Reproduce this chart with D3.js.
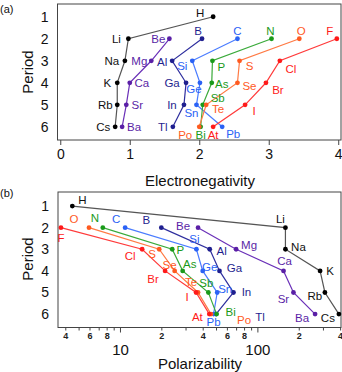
<!DOCTYPE html>
<html>
<head>
<meta charset="utf-8">
<script src="https://cdn.jsdelivr.net/npm/d3@7"></script>
<style>
body { margin: 0; background: #fff; }
svg { font-family: "Liberation Sans", Arial, sans-serif; }
</style>
</head>
<body>
<div class="chart"></div>
<script>
// data
var elements = ["H","Li","Na","K","Rb","Cs", "Be","Mg","Ca","Sr","Ba", "B","Al","Ga","In","Tl",
                "C","Si","Ge","Sn","Pb", "N","P","As","Sb","Bi", "O","S","Se","Te","Po", "F","Cl","Br","I","At"];
var group = [1,1,1,1,1,1, 2,2,2,2,2, 13,13,13,13,13, 14,14,14,14,14, 15,15,15,15,15, 16,16,16,16,16, 17,17,17,17,17];
var period = [1,2,3,4,5,6, 2,3,4,5,6, 2,3,4,5,6, 2,3,4,5,6, 2,3,4,5,6, 2,3,4,5,6, 2,3,4,5,6];
var electronegativity = [2.20,0.98,0.93,0.82,0.82,0.79, 1.57,1.31,1.00,0.95,0.89, 2.04,1.61,1.81,1.78,1.62,
                         2.55,1.90,2.01,1.96,2.33, 3.04,2.19,2.18,2.05,2.02, 3.44,2.58,2.55,2.10,2.00,
                         3.98,3.16,2.96,2.66,2.20];
var polarizability = [4.5,160,160,286,310,392, 37,70,155,183,263, 20,45,53,67,50,
                      10.9,36,40,51,48, 7.5,24,28.6,44,50.5, 5.95,19.3,25,37,46,
                      3.72,14.5,21.3,35.8,44.7];
var periodTicks = [1,2,3,4,5,6];
var enTicks = [0,1,2,3,4];
var polMinorTicks = [4,5,6,7,8,9,20,30,40,50,60,70,80,90,200,300,400];
var polMinorLabels = [4,6,8,20,40,60,80,200,400];
var polMajorTicks = [10,100];

var width = 342, height = 372;

var colors = {1:"#000000", 2:"#5a1fa6", 13:"#1f1f8f", 14:"#2a62f5", 15:"#1a9a1a", 16:"#ff5a1f", 17:"#ff1a1a"};
var lineColors = {1:"#555555", 2:"#6a30b8", 13:"#2e2e9e", 14:"#4a7cff", 15:"#3aaa3a", 16:"#ff7a44", 17:"#ff3a3a"};

// label offsets (dx, dy) from each dot
var offA = {H:[-13,-4],Li:[-12,0],Na:[-13,0],K:[-10,0],Rb:[-12,0],Cs:[-12,0],
  Be:[-11,0],Mg:[-12,0],Ca:[12,0],Sr:[11,0],Ba:[12,0],
  B:[-4,-8],Al:[-10,1],Ga:[-14,0],In:[-12,0],Tl:[-10,0],
  C:[0,-8],Si:[-10,5],Ge:[-6,6],Sn:[-5,8],Pb:[11,7],
  N:[-1,-8],P:[9,6],As:[10,1],Sb:[15,-7],Bi:[0,8],
  O:[2,-8],S:[10,5],Se:[12,3],Te:[12,4],Po:[-14,8],
  F:[-7,-8],Cl:[11,8],Br:[12,7],I:[9,6],At:[0,8]};
var offB = {H:[10,-6],Li:[-5,-9],Na:[13,-2],K:[10,0],Rb:[-10,4],Cs:[-11,4],
  Be:[-15,-2],Mg:[13,-4],Ca:[1,-10],Sr:[-10,7],Ba:[-13,4],
  B:[-15,-8],Al:[12,2],Ga:[15,-3],In:[13,0],Tl:[44,3],
  C:[-9,-9],Si:[-2,-10],Ge:[7,-4],Sn:[8,-3],Pb:[0,8],
  N:[-8,-10],P:[8,1],As:[7,-7],Sb:[-2,-9],Bi:[14,-2],
  O:[-15,-9],S:[-7,5],Se:[-5,-6],Te:[-7,-10],Po:[33,6],
  F:[0,10],Cl:[-12,7],Br:[-12,8],I:[-9,5],At:[-12,3]};

var rows = elements.map(function(e, i) {
  return {el: e, g: group[i], p: period[i], en: electronegativity[i], pol: polarizability[i]};
});
var groupIds = [1,2,13,14,15,16,17];

var svg = d3.select('.chart').append('svg')
  .attr('width', width).attr('height', height);

function panel(opts) {
  var x = opts.x, y = opts.y;
  var g = svg.append('g');
  var x0 = x.range()[0], x1 = x.range()[1], y0 = y.range()[0], y1 = y.range()[1];

  // box
  g.append('rect')
   .attr('x', x0).attr('y', y0).attr('width', x1 - x0).attr('height', y1 - y0)
   .attr('fill', 'none').attr('stroke', '#444').attr('stroke-width', 1);

  // y axis
  var yAxis = d3.axisLeft(y).tickValues(periodTicks).tickSize(0).tickPadding(9).tickFormat(d3.format('d'));
  var ya = g.append('g').attr('transform', 'translate(' + x0 + ',0)').call(yAxis);
  ya.select('.domain').remove();
  ya.selectAll('text').attr('font-size', 14).attr('fill', '#111');

  g.append('text')
   .attr('transform', 'translate(27,' + opts.yTitle + ') rotate(-90)')
   .attr('text-anchor', 'middle').attr('dominant-baseline', 'central')
   .attr('font-size', 15).attr('fill', '#111').text('Period');

  g.append('text').attr('x', 0).attr('y', opts.tagY)
   .attr('font-size', 11).attr('fill', '#111').text(opts.tag);

  // lines per group
  var line = d3.line().x(function(d) { return x(opts.val(d)); }).y(function(d) { return y(d.p); });
  groupIds.forEach(function(gid) {
    var pts = rows.filter(function(d) { return d.g === gid; });
    g.append('path').datum(pts)
     .attr('d', line).attr('fill', 'none')
     .attr('stroke', lineColors[gid]).attr('stroke-width', 1.2);
  });

  g.selectAll('circle.dot').data(rows).enter().append('circle')
   .attr('cx', function(d) { return x(opts.val(d)); })
   .attr('cy', function(d) { return y(d.p); })
   .attr('r', 2.4)
   .attr('fill', function(d) { return colors[d.g]; });

  g.selectAll('text.lab').data(rows).enter().append('text')
   .attr('x', function(d) { return x(opts.val(d)) + opts.off[d.el][0]; })
   .attr('y', function(d) { return y(d.p) + opts.off[d.el][1]; })
   .attr('text-anchor', 'middle').attr('dominant-baseline', 'central')
   .attr('font-size', 11.5)
   .attr('fill', function(d) { return d.g === 1 ? '#111' : colors[d.g]; })
   .text(function(d) { return d.el; });

  return g;
}

// (a) electronegativity
var xA = d3.scaleLinear().domain([-0.04, 4.04]).range([57.5, 341]);
var yA = d3.scaleLinear().domain([0.42, 6.6]).range([4, 140]);
var gA = panel({x: xA, y: yA, val: function(d) { return d.en; }, off: offA, yTitle: 72, tag: '(a)', tagY: 13});

var xAxisA = d3.axisBottom(xA).tickValues(enTicks).tickSize(5).tickPadding(4).tickFormat(d3.format('d'));
var xa = gA.append('g').attr('transform', 'translate(0,140)').call(xAxisA);
xa.select('.domain').remove();
xa.selectAll('line').attr('stroke', '#444');
xa.selectAll('text').attr('font-size', 14).attr('fill', '#111');
gA.append('text').attr('x', 200).attr('y', 180).attr('text-anchor', 'middle')
  .attr('dominant-baseline', 'central').attr('font-size', 15).attr('fill', '#111')
  .text('Electronegativity');

// (b) polarizability
var xB = d3.scaleLog().domain([3.54, 406]).range([58, 341]);
var yB = d3.scaleLinear().domain([0.35, 6.62]).range([192, 327.5]);
var gB = panel({x: xB, y: yB, val: function(d) { return d.pol; }, off: offB, yTitle: 259, tag: '(b)', tagY: 197});

var minorAxis = d3.axisBottom(xB).tickValues(polMinorTicks).tickSize(3).tickPadding(2)
  .tickFormat(function(d) { return polMinorLabels.indexOf(d) >= 0 ? String(d).charAt(0) : ''; });
var xbm = gB.append('g').attr('transform', 'translate(0,327.5)').call(minorAxis);
xbm.select('.domain').remove();
xbm.selectAll('line').attr('stroke', '#444');
xbm.selectAll('text').attr('font-size', 9).attr('font-weight', 'bold').attr('fill', '#222');

var majorAxis = d3.axisBottom(xB).tickValues(polMajorTicks).tickSize(5).tickPadding(12)
  .tickFormat(d3.format('d'));
var xbM = gB.append('g').attr('transform', 'translate(0,327.5)').call(majorAxis);
xbM.select('.domain').remove();
xbM.selectAll('line').attr('stroke', '#444');
xbM.selectAll('text').attr('font-size', 15).attr('fill', '#111');

gB.append('text').attr('x', 200).attr('y', 363).attr('text-anchor', 'middle')
  .attr('dominant-baseline', 'central').attr('font-size', 15).attr('fill', '#111')
  .text('Polarizability');
</script>
</body>
</html>
